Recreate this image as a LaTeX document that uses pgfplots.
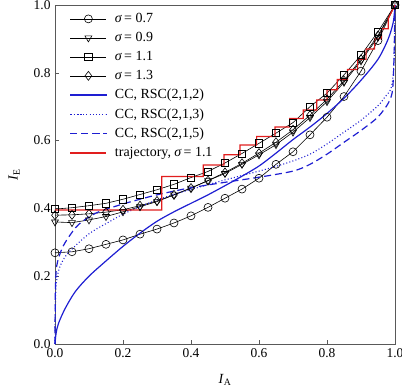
\documentclass[border=0pt]{standalone}
\usepackage{fontspec}
\setmainfont{Liberation Serif}
\usepackage{pgfplots}
\pgfplotsset{compat=1.18}
\definecolor{cblue}{RGB}{30,30,210}
\definecolor{cred}{RGB}{225,30,30}
\pgfplotsset{mylegimg/.style={legend image code/.code={\draw[mark repeat=2,mark phase=2,##1] plot coordinates {(0bp,0bp)(18bp,0bp)(36bp,0bp)};}}}
\begin{document}
\fontsize{13}{15}\selectfont
\begin{tikzpicture}
\begin{axis}[name=ax, width=340bp, height=339bp, scale only axis,
  xmin=0, xmax=1, ymin=0, ymax=1,
  xtick={0,0.2,0.4,0.6,0.8,1}, ytick={0,0.2,0.4,0.6,0.8,1},
  tick pos=left, tick align=inside, major tick length=4bp,
  axis line style={black!65, line width=0.8bp}, every tick/.style={black!65},
  /pgf/number format/.cd, fixed, fixed zerofill, precision=1, assume math mode=true,
  /pgfplots/.cd,
  tick label style={font=\fontsize{13.5}{15}\selectfont},
  xlabel={\textit{I}\textsubscript{A}}, ylabel={\textit{I}\textsubscript{E}},
  label style={font=\fontsize{14}{16}\selectfont},
  xlabel style={at={(axis description cs:0.5,0)}, anchor=north, yshift=-26bp},
  ylabel style={at={(axis description cs:-0.12,0.5)}, anchor=center},
  legend style={at={(0.04,0.985)}, anchor=north west, fill=none, draw=none,
    font=\fontsize{14}{16}\selectfont, row sep=3.8bp, inner sep=1bp,
    /tikz/every odd column/.append style={column sep=6bp}},
  legend cell align=left,
  mylegimg,
  every axis plot/.append style={line width=0.6bp},
  clip=false
]
\addplot[black, mark=o, mark size=4bp, mark options={solid, line width=0.6bp}] coordinates {
(0,0.269)(0.05,0.272)(0.1,0.281)(0.15,0.294)(0.2,0.307)(0.25,0.324)(0.3,0.339)(0.35,0.357)(0.4,0.378)(0.45,0.403)(0.5,0.43)(0.55,0.457)(0.6,0.489)(0.65,0.53)(0.7,0.567)(0.75,0.617)(0.8,0.669)(0.85,0.73)(0.9,0.805)(0.95,0.895)(1,1)};
\addlegendentry{{\itshape σ}\,= 0.7}
\addplot[black, mark=triangle, mark size=4bp, mark options={solid, rotate=180, line width=0.6bp}] coordinates {
(0,0.36)(0.05,0.358)(0.1,0.366)(0.15,0.376)(0.2,0.39)(0.25,0.405)(0.3,0.42)(0.35,0.44)(0.4,0.46)(0.45,0.482)(0.5,0.503)(0.55,0.53)(0.6,0.558)(0.65,0.588)(0.7,0.625)(0.75,0.668)(0.8,0.715)(0.85,0.772)(0.9,0.835)(0.95,0.905)(1,1)};
\addlegendentry{{\itshape σ}\,= 0.9}
\addplot[black, mark=square, mark size=3.6bp, mark options={solid, line width=0.6bp}] coordinates {
(0,0.398)(0.05,0.402)(0.1,0.408)(0.15,0.415)(0.2,0.427)(0.25,0.441)(0.3,0.455)(0.35,0.471)(0.4,0.491)(0.45,0.509)(0.5,0.534)(0.55,0.562)(0.6,0.592)(0.65,0.622)(0.7,0.653)(0.75,0.7)(0.8,0.74)(0.85,0.794)(0.9,0.852)(0.95,0.921)(1,1)};
\addlegendentry{{\itshape σ}\,= 1.1}
\addplot[black, mark=diamond, mark size=4.5bp, mark options={solid, line width=0.6bp}] coordinates {
(0,0.38)(0.05,0.381)(0.1,0.384)(0.15,0.389)(0.2,0.396)(0.25,0.408)(0.3,0.422)(0.35,0.44)(0.4,0.46)(0.45,0.482)(0.5,0.506)(0.55,0.533)(0.6,0.563)(0.65,0.595)(0.7,0.632)(0.75,0.675)(0.8,0.722)(0.85,0.777)(0.9,0.84)(0.95,0.91)(1,1)};
\addlegendentry{{\itshape σ}\,= 1.3}
\addplot[color=cblue, draw=cblue, line width=1.2bp, smooth] coordinates {
(0,0)(0.003,0.03)(0.01,0.06)(0.03,0.105)(0.06,0.155)(0.1,0.2)(0.15,0.245)(0.2,0.288)(0.25,0.327)(0.3,0.362)(0.35,0.39)(0.4,0.415)(0.45,0.44)(0.5,0.467)(0.55,0.495)(0.6,0.525)(0.65,0.563)(0.7,0.603)(0.75,0.64)(0.8,0.68)(0.85,0.725)(0.9,0.778)(0.95,0.84)(0.98,0.9)(0.995,0.95)(1,1)};
\addlegendentry{CC, RSC(2,1,2)}
\addplot[color=cblue, draw=cblue, line width=1.1bp, dash pattern=on 1bp off 2.2bp, smooth] coordinates {
(0,0)(0.001,0.1)(0.004,0.18)(0.015,0.23)(0.04,0.27)(0.1,0.325)(0.15,0.355)(0.2,0.383)(0.25,0.405)(0.3,0.425)(0.35,0.441)(0.4,0.456)(0.45,0.47)(0.5,0.484)(0.55,0.497)(0.6,0.51)(0.65,0.524)(0.7,0.54)(0.75,0.56)(0.8,0.59)(0.85,0.625)(0.9,0.66)(0.95,0.703)(0.97,0.728)(0.99,0.76)(0.998,0.85)(1,1)};
\addlegendentry{CC, RSC(2,1,3)}
\addplot[color=cblue, draw=cblue, line width=1.2bp, dash pattern=on 7bp off 4bp, smooth] coordinates {
(0,0)(0.001,0.15)(0.005,0.23)(0.02,0.28)(0.04,0.315)(0.07,0.353)(0.12,0.386)(0.19,0.41)(0.25,0.427)(0.3,0.44)(0.35,0.451)(0.4,0.461)(0.5,0.477)(0.6,0.492)(0.7,0.51)(0.75,0.53)(0.8,0.56)(0.85,0.595)(0.9,0.63)(0.95,0.67)(0.985,0.72)(0.995,0.78)(1,1)};
\addlegendentry{CC, RSC(2,1,5)}
\addplot[color=cred, draw=cred, line width=1.2bp] coordinates {
(0,0.395)(0.314,0.395)(0.314,0.494)(0.436,0.494)(0.436,0.528)(0.497,0.528)(0.497,0.558)(0.544,0.558)(0.544,0.587)(0.593,0.587)(0.593,0.612)(0.647,0.612)(0.647,0.64)(0.69,0.64)(0.69,0.665)(0.73,0.665)(0.73,0.69)(0.77,0.69)(0.77,0.72)(0.80,0.72)(0.80,0.75)(0.83,0.75)(0.83,0.78)(0.86,0.78)(0.86,0.81)(0.89,0.81)(0.89,0.84)(0.915,0.84)(0.915,0.87)(0.94,0.87)(0.94,0.90)(0.96,0.90)(0.96,0.93)(0.98,0.93)(0.98,0.96)(1,1)};
\addlegendentry{trajectory, {\itshape σ}\,= 1.1}
\end{axis}
\pgfresetboundingbox
\path ([shift={(-55bp,-46bp)}]ax.south west) rectangle ([shift={(7bp,5bp)}]ax.north east);
\end{tikzpicture}
\end{document}
